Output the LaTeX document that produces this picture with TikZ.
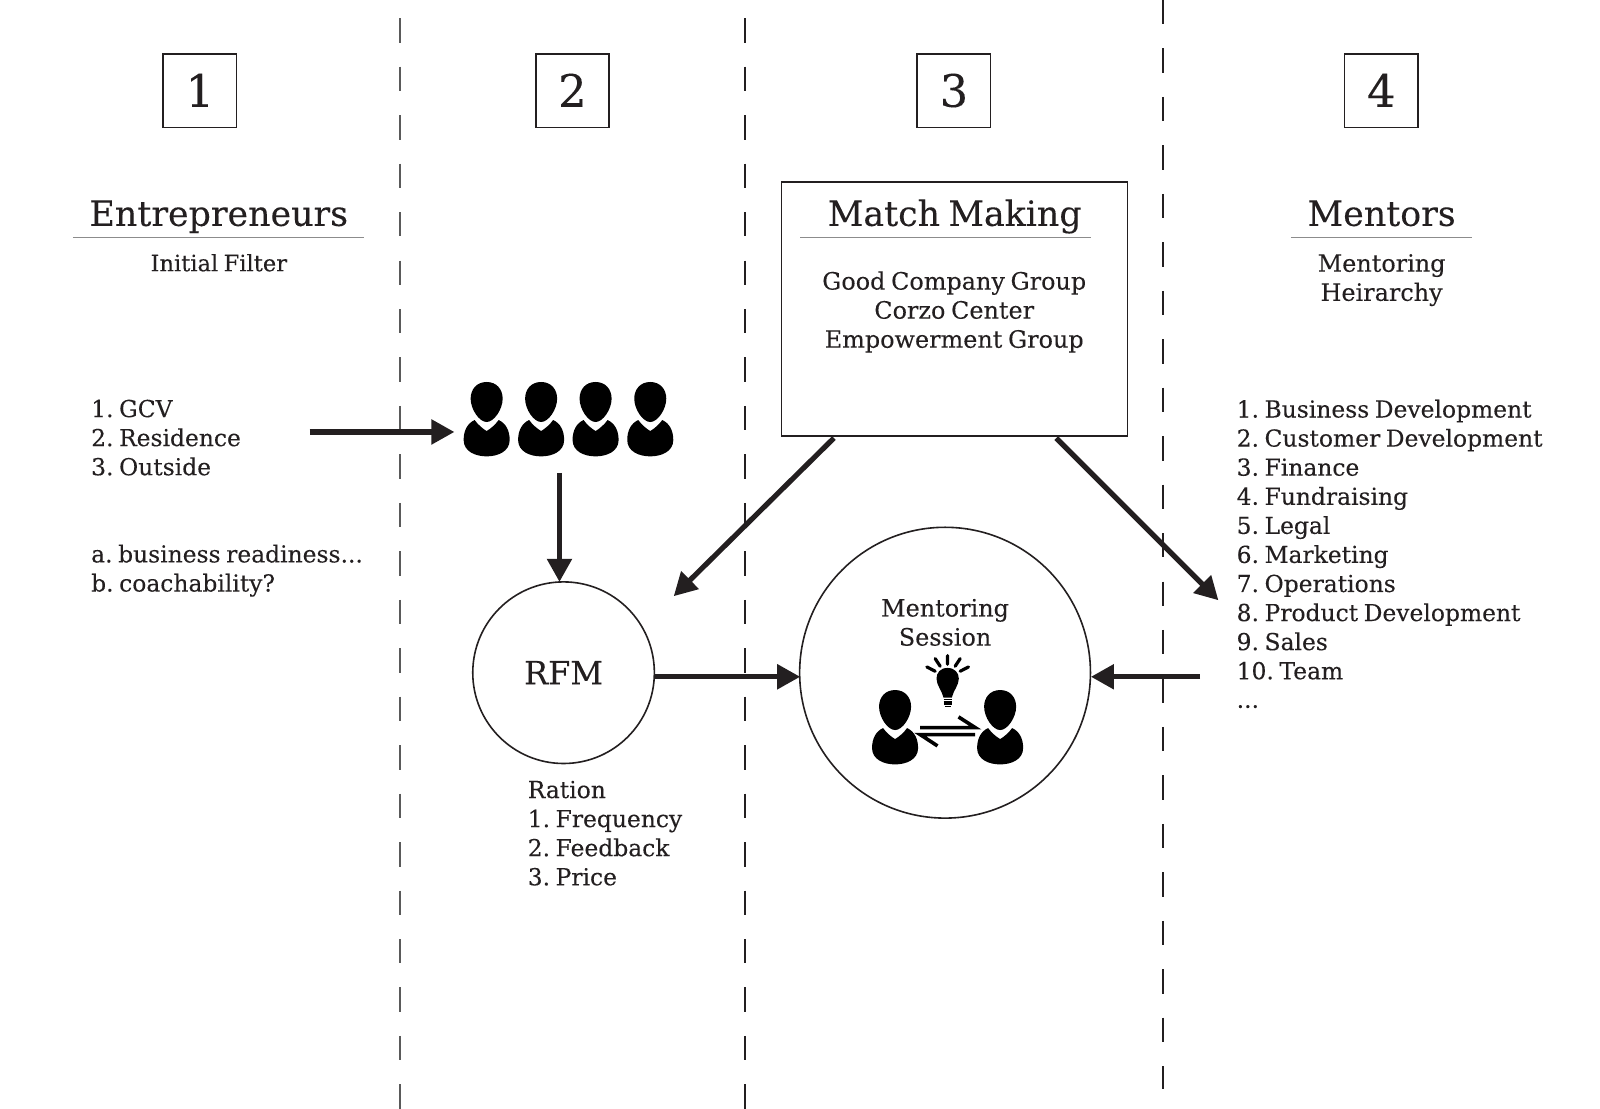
\documentclass[tikz,border=0pt]{standalone}
\usepackage{fontspec}
\setmainfont[FakeBold=0.12,WordSpace=0.75]{DejaVu Serif}
\usetikzlibrary{arrows.meta}
\definecolor{ink}{HTML}{231F20}
\definecolor{dashc}{HTML}{5A5A5A}
\definecolor{rulec}{HTML}{8C8C8C}
\tikzset{
  x=0.51pt,y=-0.51pt,
  numbox/.style={draw=ink,line width=0.8pt,minimum size=36.7pt,inner sep=0,text=ink,font=\fontsize{22.4}{26}\selectfont},
  title/.style={anchor=base,inner sep=0,yshift=0.3pt,text=ink,font=\fontsize{17.4}{21}\selectfont},
  body/.style={inner sep=0,yshift=0.3pt,text=ink,font=\frenchspacing\fontsize{11.7}{14.54}\selectfont},
  leftlist/.style={body,align=left,anchor=base west},
  midlist/.style={body,align=center,anchor=base,font=\frenchspacing\fontsize{11.95}{14.54}\selectfont},
  dividerA/.style={dashc,line width=1.15pt,dash pattern=on 12.2pt off 12.03pt},
  dividerB/.style={ink,line width=0.8pt,dash pattern=on 12.2pt off 12.03pt},
  under/.style={rulec,line width=0.5pt},
  arr/.style={ink,line width=2.6pt,-{Triangle[length=11.5pt,width=12pt]}},
  round1/.style={circle,draw=ink,line width=0.8pt,inner sep=0},
  person/.pic={
    \fill[black] (0,0) .. controls (-30,0) and (-48,22) .. (-48,50) .. controls (-48,82) and (-22,120) .. (0,120)
       .. controls (22,120) and (48,82) .. (48,50) .. controls (48,22) and (30,0) .. (0,0) -- cycle;
    \fill[black] (0,147) .. controls (-12,140) and (-26,128) .. (-36,114) .. controls (-58,124) and (-69,146) .. (-69,174)
       .. controls (-69,208) and (-34,223) .. (0,223) .. controls (34,223) and (69,208) .. (69,174)
       .. controls (69,146) and (58,124) .. (36,114) .. controls (26,128) and (12,140) .. (0,147) -- cycle;
  }
}
\begin{document}
\begin{tikzpicture}
\useasboundingbox (-0.5,-0.5) rectangle (1568.1,1086.7);
% dividers
\coordinate (d1a) at (391.5,17.4); \coordinate (d1b) at (391.5,1090);
\coordinate (d2a) at (729.9,17.4); \coordinate (d2b) at (729.9,1090);
\coordinate (d3a) at (1139.5,-0.5); \coordinate (d3b) at (1139.5,1067.5);
\draw[dividerA] (d1a) -- (d1b);
\draw[dividerB] (d2a) -- (d2b);
\draw[dividerB] (d3a) -- (d3b);
% numbers
\node[numbox] (n1) at (195.5,88.5) {\raisebox{0.6pt}{1}};
\node[numbox] (n2) at (560.7,88.5) {\raisebox{0.6pt}{2}};
\node[numbox] (n3) at (934.7,88.5) {\raisebox{0.6pt}{3}};
\node[numbox] (n4) at (1353.7,88.5) {\raisebox{0.6pt}{4}};
% headings
\node[title] (tE) at (214,221.5) {Entrepreneurs};
\draw[under] (71,232) -- (356,232);
\node[midlist,font=\frenchspacing\fontsize{11.3}{14.54}\selectfont] (sE) at (214,266) {Initial Filter};
\node[title] (tM) at (1354,221.5) {Mentors};
\draw[under] (1265,232) -- (1443,232);
\node[midlist] (sM) at (1354,295) {Mentoring\\Heirarchy};
% match making
\node[draw=ink,line width=0.8pt,minimum width=173pt,minimum height=127pt,inner sep=0] (mm) at (935.2,302.3) {};
\node[title] (tMM) at (935.5,221.5) {Match Making};
\draw[under] (784,232) -- (1069,232);
\node[midlist] (sMM) at (935,341) {Good Company Group\\Corzo Center\\Empowerment Group};
% left lists
\node[leftlist] (l1) at (88.5,466) {1. GCV\\2. Residence\\3. Outside};
\node[leftlist] (l2) at (88.5,580) {a. business readiness...\\b. coachability?};
% people
\foreach \n/\px in {p1/476.6,p2/530,p3/583.4,p4/637}{
  \pic[scale=0.327] (\n) at (\px,374) {person};
}
% RFM
\node[round1,minimum size=90.8pt] (rfm) at (552,659) {};
\node[title,font=\fontsize{16}{19}\selectfont] (trfm) at (552,671) {RFM};
\node[leftlist] (l3) at (516.5,868) {Ration\\1. Frequency\\2. Feedback\\3. Price};
% session
\node[round1,minimum size=145.4pt] (sess) at (926,659) {};
\node[midlist] (tsess) at (926,633) {Mentoring\\Session};
\pic[scale=0.327] (s1) at (877,676) {person};
\pic[scale=0.327] (s2) at (980,676) {person};
\begin{scope}[shift={(823.2,578.2)},scale=0.3267]
  \fill[black] (322,233) .. controls (300,233) and (289,248) .. (289,265) .. controls (289,285) and (305,300) .. (310,322)
     -- (335,322) .. controls (340,300) and (356,285) .. (356,265) .. controls (356,248) and (344,233) .. (322,233) -- cycle;
  \draw[black,line width=0.8pt] (310,328) -- (335,328) (310,335) -- (335,335) (311,342) -- (334,342) (314,349) -- (331,349);
  \draw[black,line width=1.6pt,line cap=round] (322,196) -- (322,222) (285,205) -- (300,228) (360,205) -- (345,228) (260,230) -- (285,243) (385,230) -- (360,243);
  \draw[black,line width=1.8pt] (240,412) -- (405,412) -- (355,380);
  \draw[black,line width=1.8pt] (405,433) -- (240,433) -- (292,467);
\end{scope}
% mentor list
\node[leftlist] (l4) at (1211.5,666) {1. Business Development\\2. Customer Development\\3. Finance\\4. Fundraising\\5. Legal\\6. Marketing\\7. Operations\\8. Product Development\\9. Sales\\10. Team};
\node[leftlist] (l5) at (1211.5,694) {...};
% arrows
\coordinate (a1) at (303,423); \coordinate (a1e) at (445,423);
\draw[arr] (a1) -- (a1e);
\coordinate (a2) at (548,463); \coordinate (a2e) at (548,570);
\draw[arr] (a2) -- (a2e);
\coordinate (a3) at (817,429); \coordinate (a3e) at (660,584);
\draw[arr] (a3) -- (a3e);
\coordinate (a4) at (1035,429); \coordinate (a4e) at (1194,588);
\draw[arr] (a4) -- (a4e);
\coordinate (a5) at (641,663); \coordinate (a5e) at (784,663);
\draw[arr] (a5) -- (a5e);
\coordinate (a6) at (1176,663); \coordinate (a6e) at (1069,663);
\draw[arr] (a6) -- (a6e);
\end{tikzpicture}
\end{document}
